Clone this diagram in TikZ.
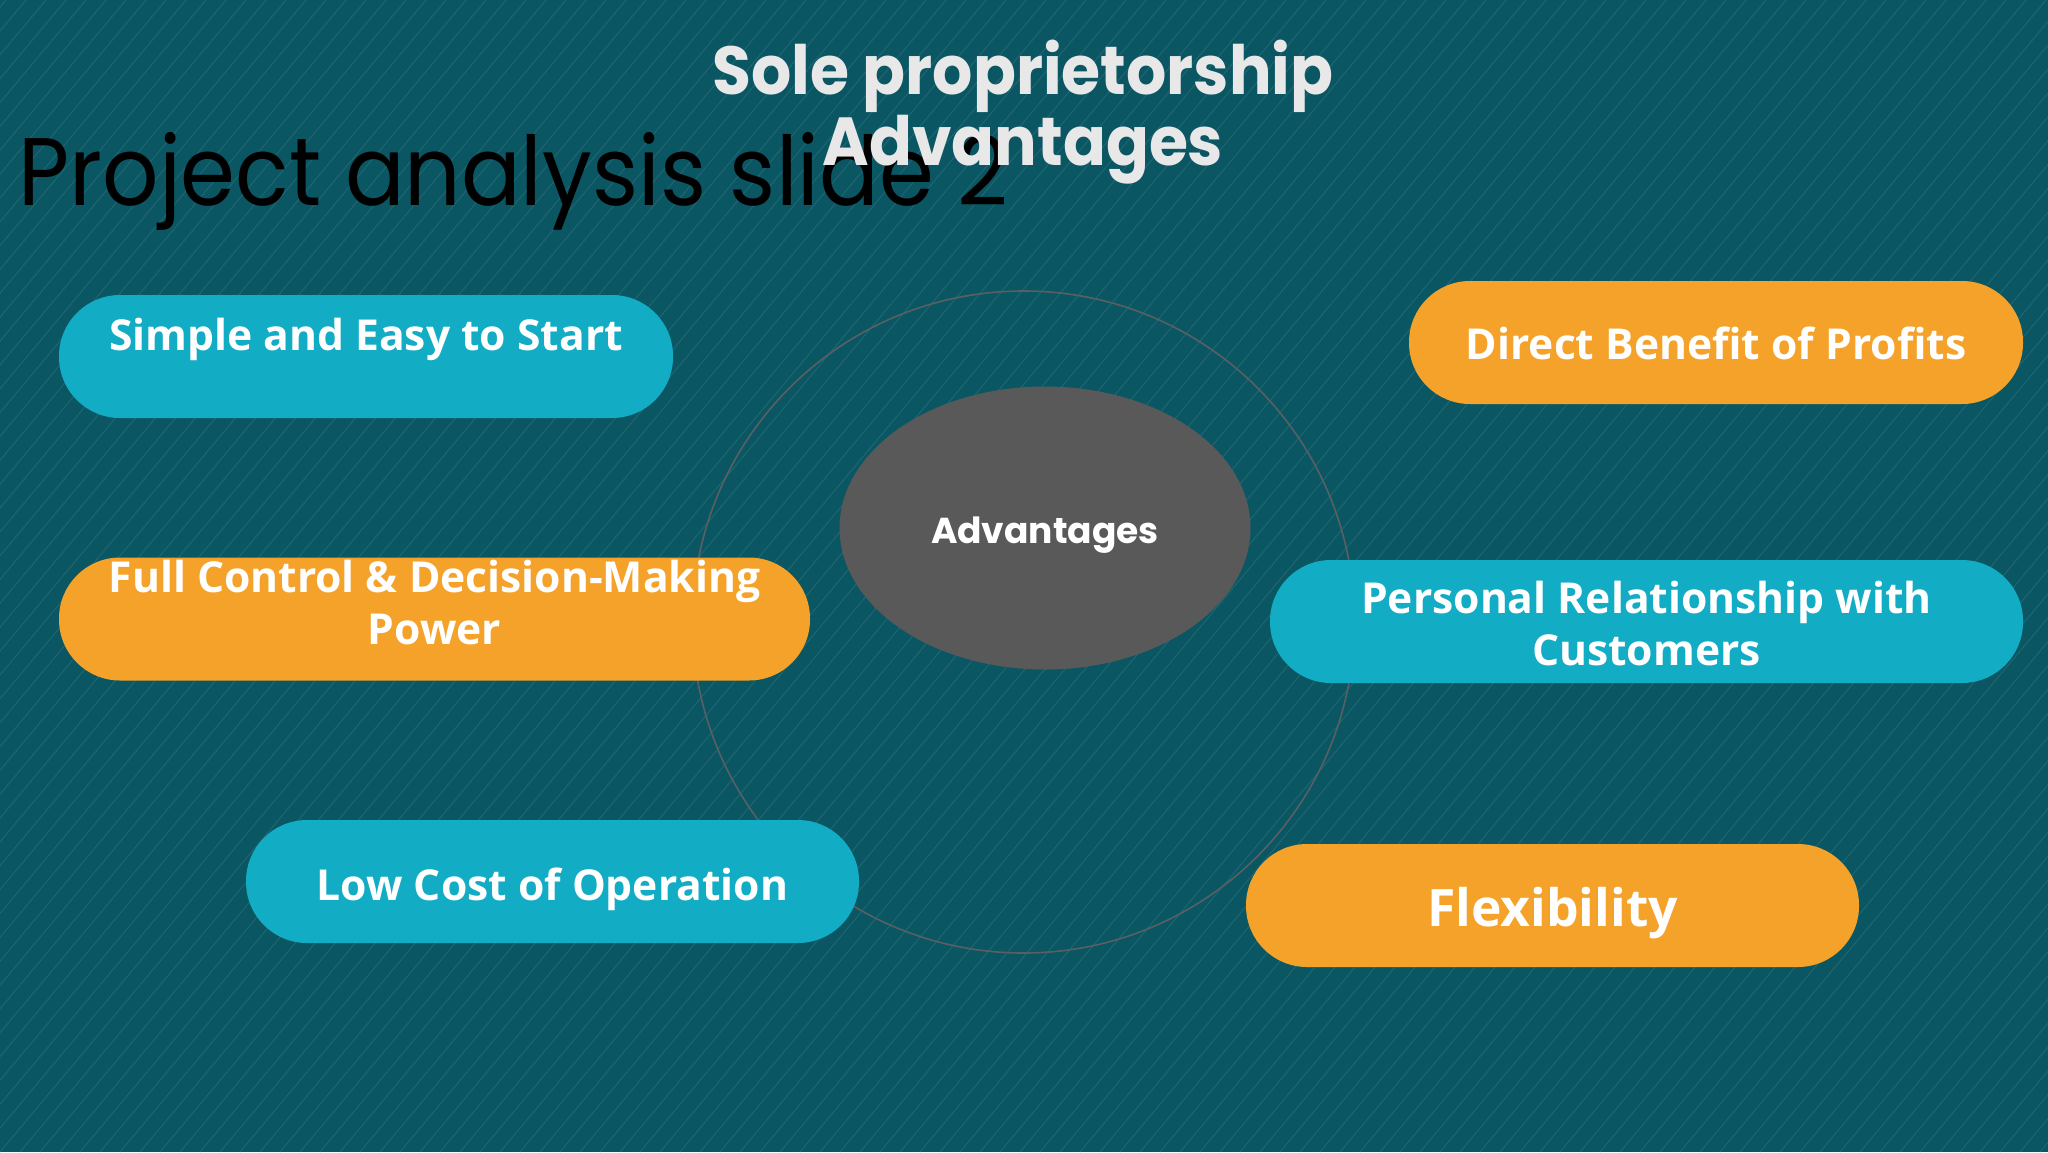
\documentclass[tikz,border=0pt]{standalone}
\usepackage{fontspec}
\usetikzlibrary{shapes.geometric}
\setmainfont{Open Sans}
\newfontfamily\gothic{Poppins}
\newfontfamily\gothicnarrow[FakeStretch=0.92]{Poppins}
\newfontfamily\gothictitle[FakeStretch=0.93]{Poppins}
\definecolor{bgteal}{RGB}{10,86,99}
\definecolor{stripe}{RGB}{32,102,114}
\definecolor{pillcyan}{RGB}{18,173,197}
\definecolor{pillorange}{RGB}{244,162,42}
\definecolor{hubgray}{RGB}{89,89,89}
\definecolor{ringgray}{RGB}{88,96,100}
\definecolor{titlegray}{RGB}{232,232,232}
\tikzset{
  pill/.style={draw=none, rounded corners=30.5pt, minimum height=61.5pt, inner sep=0pt},
  cyanpill/.style={pill, fill=pillcyan},
  orangepill/.style={pill, fill=pillorange},
  pilltext/.style={text=white, font=\fontsize{21.3}{25.7}\selectfont\bfseries, align=center, inner sep=0pt, anchor=base},
}
\begin{document}
\begin{tikzpicture}[x=0.5pt,y=-0.5pt]
\useasboundingbox (0,0) rectangle (2048,1152);
\fill[bgteal] (0,0) rectangle (2048,1152);
\begin{scope}
\clip (0,0) rectangle (2048,1152);
\foreach \i in {-1000,-980,...,2060} {
  \draw[stripe, line width=0.5pt] (\i,1152) -- ({\i+966},0);
}
\end{scope}
% ring
\node[circle, draw=ringgray, line width=0.8pt, minimum size=331pt, inner sep=0pt] (ring) at (1023.5,622) {};
% pills
\node[cyanpill, minimum width=307pt] (p1) at (366,356.5) {};
\node[orangepill, minimum width=375.5pt] (p2) at (434.5,619) {};
\node[cyanpill, minimum width=306.5pt] (p3) at (552.5,881.5) {};
\node[orangepill, minimum width=307pt] (p4) at (1716,342.5) {};
\node[cyanpill, minimum width=376.5pt] (p5) at (1646.5,621.5) {};
\node[orangepill, minimum width=306.5pt] (p6) at (1552.5,905.5) {};
% hub
\node[ellipse, fill=hubgray, minimum width=205.5pt, minimum height=141.5pt, inner sep=0pt] (hub) at (1045,528) {};
\node[text=white, font=\gothic\bfseries\fontsize{18}{22}\selectfont, anchor=base, inner sep=0pt] (hubtext) at (1045,543) {Advantages};
% pill texts
\node[pilltext] (t1) at (366,350) {Simple and Easy to Start};
\node[pilltext] (t2) at (434.5,644) {Full Control \& Decision-Making\\Power};
\node[pilltext] (t3) at (552.5,900) {Low Cost of Operation};
\node[pilltext] (t4) at (1716,359) {Direct Benefit of Profits};
\node[pilltext] (t5) at (1646.5,665) {Personal Relationship with\\Customers};
\node[pilltext, font=\fontsize{25.8}{30}\selectfont\bfseries] (t6) at (1552.5,926) {Flexibility};
% titles
\node[anchor=base west, inner sep=0pt, text=black, font=\gothicnarrow\fontsize{48}{56}\selectfont] (slide) at (18,205) {Project analysis slide 2};
\node[anchor=base, inner sep=0pt, text=titlegray, font=\gothictitle\bfseries\fontsize{34}{35.5}\selectfont, align=center] (title) at (1023,165) {Sole proprietorship\\Advantages};
\end{tikzpicture}
\end{document}
